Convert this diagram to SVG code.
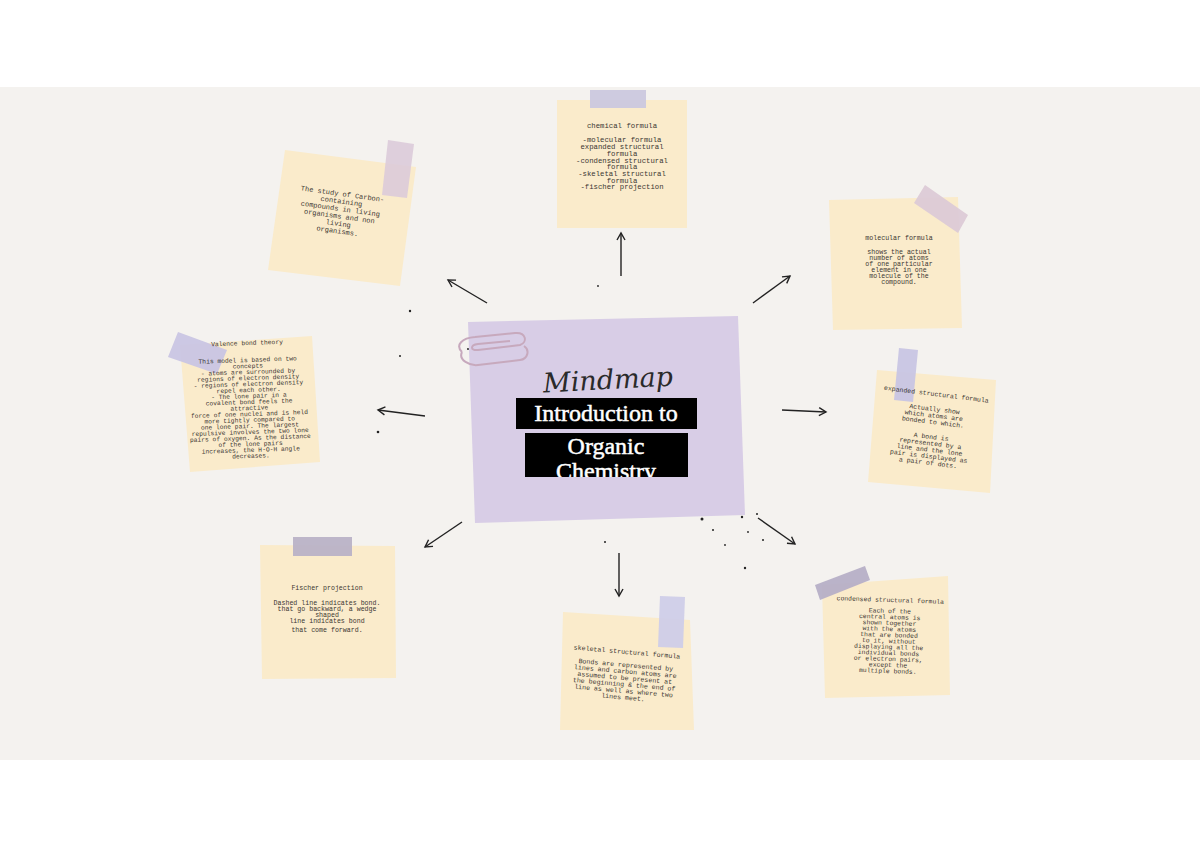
<svg xmlns="http://www.w3.org/2000/svg" width="1200" height="848" viewBox="0 0 1200 848">
<defs>
<style>
.note{fill:#faebcb}
.nt{font-family:"Liberation Mono","DejaVu Sans Mono",monospace;fill:#3a3632;text-anchor:middle}
.conn{stroke:#222;stroke-width:1.4;fill:none;marker-end:url(#ah)}
.dot{fill:#222}
.title{font-family:"Liberation Serif","DejaVu Serif",serif;fill:#fff;stroke:#fff;stroke-width:0.5;text-anchor:middle;font-size:24px}
</style>
<marker id="ah" markerUnits="userSpaceOnUse" markerWidth="12" markerHeight="12" refX="8" refY="5" orient="auto">
<path d="M1,1 L8,5 L1,9" fill="none" stroke="#222" stroke-width="1.4"/>
</marker>
<clipPath id="box2"><rect x="525" y="433" width="163" height="44"/></clipPath>
</defs>
<rect x="0" y="0" width="1200" height="848" fill="#ffffff"/>
<rect x="0" y="87" width="1200" height="673" fill="#f4f2ef"/>

<g id="connectors">
<line class="conn" x1="487" y1="303" x2="448" y2="280"/>
<line class="conn" x1="621" y1="276" x2="621" y2="233"/>
<line class="conn" x1="753" y1="303" x2="790" y2="276"/>
<line class="conn" x1="425" y1="416" x2="378" y2="410"/>
<line class="conn" x1="782" y1="410" x2="826" y2="412"/>
<line class="conn" x1="462" y1="522" x2="425" y2="547"/>
<line class="conn" x1="619" y1="553" x2="619" y2="596"/>
<line class="conn" x1="758" y1="518" x2="795" y2="544"/>
</g>

<g id="dots">
<circle class="dot" cx="410" cy="311" r="1.2"/>
<circle class="dot" cx="400" cy="356" r="1"/>
<circle class="dot" cx="378" cy="432" r="1.3"/>
<circle class="dot" cx="468" cy="349" r="1"/>
<circle class="dot" cx="702" cy="519" r="1.5"/>
<circle class="dot" cx="742" cy="517" r="1.2"/>
<circle class="dot" cx="757" cy="514" r="1"/>
<circle class="dot" cx="763" cy="540" r="1"/>
<circle class="dot" cx="745" cy="568" r="1.2"/>
<circle class="dot" cx="713" cy="530" r="1"/>
<circle class="dot" cx="725" cy="545" r="0.9"/>
<circle class="dot" cx="605" cy="542" r="1"/>
<circle class="dot" cx="598" cy="286" r="0.9"/>
<circle class="dot" cx="748" cy="532" r="0.9"/>
</g>

<g id="center">
<polygon points="468,322 738,316 745,515 475,523" fill="#d8cde6"/>
<path d="M462,352 C455,345 462,338 475,337 L515,333 C526,332 528,342 520,345 L478,350 C470,351 470,345 478,344 L510,341" fill="none" stroke="#c7a9bd" stroke-width="2"/>
<path d="M462,352 C458,360 470,366 478,365 L520,360 C528,359 530,350 524,346" fill="none" stroke="#c7a9bd" stroke-width="2"/>
<text x="608" y="389" font-family="'DejaVu Serif','Liberation Serif',serif" font-style="italic" font-size="27" fill="#2a2a2a" text-anchor="middle" font-weight="normal" transform="rotate(-3 608 380)">Mindmap</text>
<rect x="516" y="398" width="181" height="31" fill="#000"/>
<text class="title" x="606" y="421">Introduction to</text>
<rect x="525" y="433" width="163" height="44" fill="#000"/>
<g clip-path="url(#box2)">
<text class="title" x="606" y="454">Organic</text>
<text class="title" x="606" y="479">Chemistry</text>
</g>
</g>

<g id="note-definition">
<polygon class="note" points="285,150 416,167 400,286 268,270"/>
<polygon points="388,140 414,144 407,198 382,195" fill="#dccbd9" opacity="0.9"/>
<g transform="rotate(8 340 212)" font-size="7">
<text class="nt" x="340" y="196">The study of Carbon-</text>
<text class="nt" x="340" y="203.5">containing</text>
<text class="nt" x="340" y="211">compounds in living</text>
<text class="nt" x="340" y="218.5">organisms and non</text>
<text class="nt" x="340" y="226">living</text>
<text class="nt" x="340" y="233.5">organisms.</text>
</g>
</g>

<g id="note-chemical-formula">
<polygon class="note" points="557,100 687,100 687,228 557,228"/>
<rect x="590" y="90" width="56" height="18" fill="#cbc8de" opacity="0.95"/>
<g font-size="7.3">
<text class="nt" x="622" y="128">chemical formula</text>
<text class="nt" x="622" y="142">-molecular formula</text>
<text class="nt" x="622" y="149">expanded structural</text>
<text class="nt" x="622" y="155.5">formula</text>
<text class="nt" x="622" y="162.5">-condensed structural</text>
<text class="nt" x="622" y="169">formula</text>
<text class="nt" x="622" y="176">-skeletal structural</text>
<text class="nt" x="622" y="182.5">formula</text>
<text class="nt" x="622" y="189">-fischer projection</text>
</g>
</g>

<g id="note-molecular-formula">
<polygon class="note" points="829,200 958,197 962,328 833,330"/>
<polygon points="925,185 968,215 958,233 914,203" fill="#dccad6" opacity="0.95"/>
<g font-size="6.6">
<text class="nt" x="899" y="240">molecular formula</text>
<text class="nt" x="899" y="254">shows the actual</text>
<text class="nt" x="899" y="260">number of atoms</text>
<text class="nt" x="899" y="266">of one particular</text>
<text class="nt" x="899" y="272">element in one</text>
<text class="nt" x="899" y="278">molecule of the</text>
<text class="nt" x="899" y="284">compound.</text>
</g>
</g>

<g id="note-valence-bond">
<polygon class="note" points="180,345 312,336 320,462 190,472"/>
<polygon points="178,332 227,350 217,374 168,357" fill="#c9c5e3" opacity="0.95"/>
<g transform="rotate(-2 249 400)" font-size="6.3">
<text class="nt" x="249" y="345">Valence bond theory</text>
<text class="nt" x="249" y="362">This model is based on two</text>
<text class="nt" x="249" y="368">concepts</text>
<text class="nt" x="249" y="374">- atoms are surrounded by</text>
<text class="nt" x="249" y="380">regions of electron density</text>
<text class="nt" x="249" y="386">- regions of electron density</text>
<text class="nt" x="249" y="392">repel each other.</text>
<text class="nt" x="249" y="398">- The lone pair in a</text>
<text class="nt" x="249" y="404">covalent bond feels the</text>
<text class="nt" x="249" y="410">attractive</text>
<text class="nt" x="249" y="416">force of one nuclei and is held</text>
<text class="nt" x="249" y="422">more tightly compared to</text>
<text class="nt" x="249" y="428">one lone pair. The largest</text>
<text class="nt" x="249" y="434">repulsive involves the two lone</text>
<text class="nt" x="249" y="440">pairs of oxygen. As the distance</text>
<text class="nt" x="249" y="446">of the lone pairs</text>
<text class="nt" x="249" y="452">increases, the H-O-H angle</text>
<text class="nt" x="249" y="458">decreases.</text>
</g>
</g>

<g id="note-expanded">
<polygon class="note" points="877,370 996,380 990,493 868,482"/>
<polygon points="899,348 918,350 913,402 894,400" fill="#c8c5e3" opacity="0.95"/>
<g transform="rotate(7 932 430)" font-size="6.5">
<text class="nt" x="932" y="396">expanded structural formula</text>
<text class="nt" x="932" y="411">Actually show</text>
<text class="nt" x="932" y="417.5">which atoms are</text>
<text class="nt" x="932" y="424">bonded to which.</text>
<text class="nt" x="932" y="439">A bond is</text>
<text class="nt" x="932" y="445.5">represented by a</text>
<text class="nt" x="932" y="452">line and the lone</text>
<text class="nt" x="932" y="458.5">pair is displayed as</text>
<text class="nt" x="932" y="465">a pair of dots.</text>
</g>
</g>

<g id="note-fischer">
<polygon class="note" points="260,545 395,546 396,678 262,679"/>
<rect x="293" y="537" width="59" height="19" fill="#b9b2c6" opacity="0.95"/>
<g font-size="6.6">
<text class="nt" x="327" y="590">Fischer projection</text>
<text class="nt" x="327" y="605">Dashed line indicates bond.</text>
<text class="nt" x="327" y="611">that go backward, a wedge</text>
<text class="nt" x="327" y="617">shaped</text>
<text class="nt" x="327" y="623">line indicates bond</text>
<text class="nt" x="327" y="632">that come forward.</text>
</g>
</g>

<g id="note-skeletal">
<polygon class="note" points="563,612 690,620 694,730 560,730"/>
<polygon points="660,596 685,597 683,648 658,647" fill="#cfcde8" opacity="0.95"/>
<g transform="rotate(5 625 675)" font-size="6.6">
<text class="nt" x="625" y="654">skeletal structural formula</text>
<text class="nt" x="625" y="667">Bonds are represented by</text>
<text class="nt" x="625" y="673.5">lines and carbon atoms are</text>
<text class="nt" x="625" y="680">assumed to be present at</text>
<text class="nt" x="625" y="686.5">the beginning &amp; the end of</text>
<text class="nt" x="625" y="693">line as well as where two</text>
<text class="nt" x="625" y="699.5">lines meet.</text>
</g>
</g>

<g id="note-condensed">
<polygon class="note" points="822,585 948,576 950,695 825,698"/>
<polygon points="815,585 865,566 870,580 820,600" fill="#b6afc6" opacity="0.95"/>
<g transform="rotate(2 889 638)" font-size="6.4">
<text class="nt" x="889" y="602">condensed structural formula</text>
<text class="nt" x="889" y="613">Each of the</text>
<text class="nt" x="889" y="619">central atoms is</text>
<text class="nt" x="889" y="625">shown together</text>
<text class="nt" x="889" y="631">with the atoms</text>
<text class="nt" x="889" y="637">that are bonded</text>
<text class="nt" x="889" y="643">to it, without</text>
<text class="nt" x="889" y="649">displaying all the</text>
<text class="nt" x="889" y="655">individual bonds</text>
<text class="nt" x="889" y="661">or electron pairs,</text>
<text class="nt" x="889" y="667">except the</text>
<text class="nt" x="889" y="673">multiple bonds.</text>
</g>
</g>
</svg>
